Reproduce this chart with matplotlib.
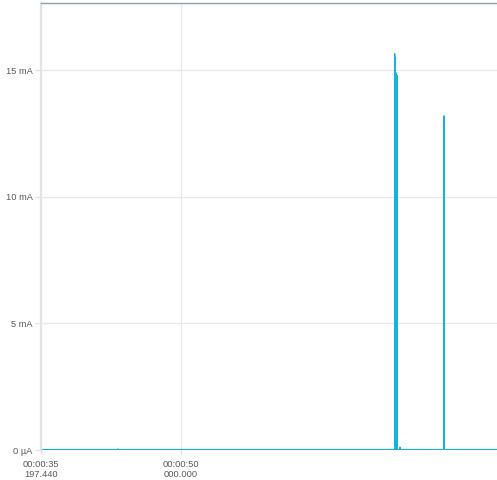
import numpy as np
import matplotlib.pyplot as plt
from matplotlib.ticker import FixedLocator

plt.rcParams['font.family'] = ['Liberation Sans', 'DejaVu Sans']

# Current trace (seconds, mA)
t_base = [35.19744, 40.0, 43.30, 43.34, 43.38, 50.0, 60.0, 70.0, 72.56]
i_base = [0.02, 0.02, 0.02, 0.05, 0.02, 0.02, 0.02, 0.02, 0.02]

t_burst = [72.58, 72.60, 72.63, 72.66, 72.69, 72.72, 72.75, 72.78, 72.81,
           72.83, 72.85, 73.10, 73.15, 73.20]
i_burst = [0.02, 15.65, 0.02, 15.5, 0.02, 14.9, 0.02, 14.85, 0.02,
           14.8, 0.02, 0.02, 0.12, 0.02]

t_tail = [75.0, 77.79, 77.80, 77.81, 80.0, 83.41]
i_tail = [0.02, 0.02, 13.2, 0.02, 0.02, 0.02]

t = np.array(t_base + t_burst + t_tail)
cur = np.array(i_base + i_burst + i_tail)

xticks = [35.19744, 50.0]
xlabels = ['00:00:35\n197.440', '00:00:50\n000.000']
yticks = [0, 5, 10, 15]
ylabels = ['0 µA', '5 mA', '10 mA', '15 mA']

fig = plt.figure(figsize=(4.97, 4.80), dpi=100)
ax = fig.add_axes([41/497, 30/480, 456/497, 447/480])

ax.plot(t, cur, color='#17b2d9', linewidth=0.8)

ax.set_xlim(35.19744, 83.41)
ax.set_ylim(0, 17.65)
ax.xaxis.set_major_locator(FixedLocator(xticks))
ax.set_xticklabels(xlabels)
ax.yaxis.set_major_locator(FixedLocator(yticks))
ax.set_yticklabels(ylabels)

ax.grid(True, color='#e8e8e8', linewidth=0.9)
ax.set_axisbelow(True)
ax.tick_params(axis='both', colors='#e0e0e0', labelcolor='#5a5a5a',
               labelsize=6.7, length=4, width=0.9)
ax.tick_params(axis='x', length=3, pad=4)
ax.tick_params(axis='y', pad=2)

for s in ['right', 'bottom']:
    ax.spines[s].set_visible(False)
ax.spines['left'].set_color('#e3e3e3')
ax.spines['left'].set_linewidth(1.6)
ax.spines['top'].set_color('#8aa2ae')
ax.spines['top'].set_linewidth(1.0)

plt.savefig('out.png', dpi=100)
plt.close()
